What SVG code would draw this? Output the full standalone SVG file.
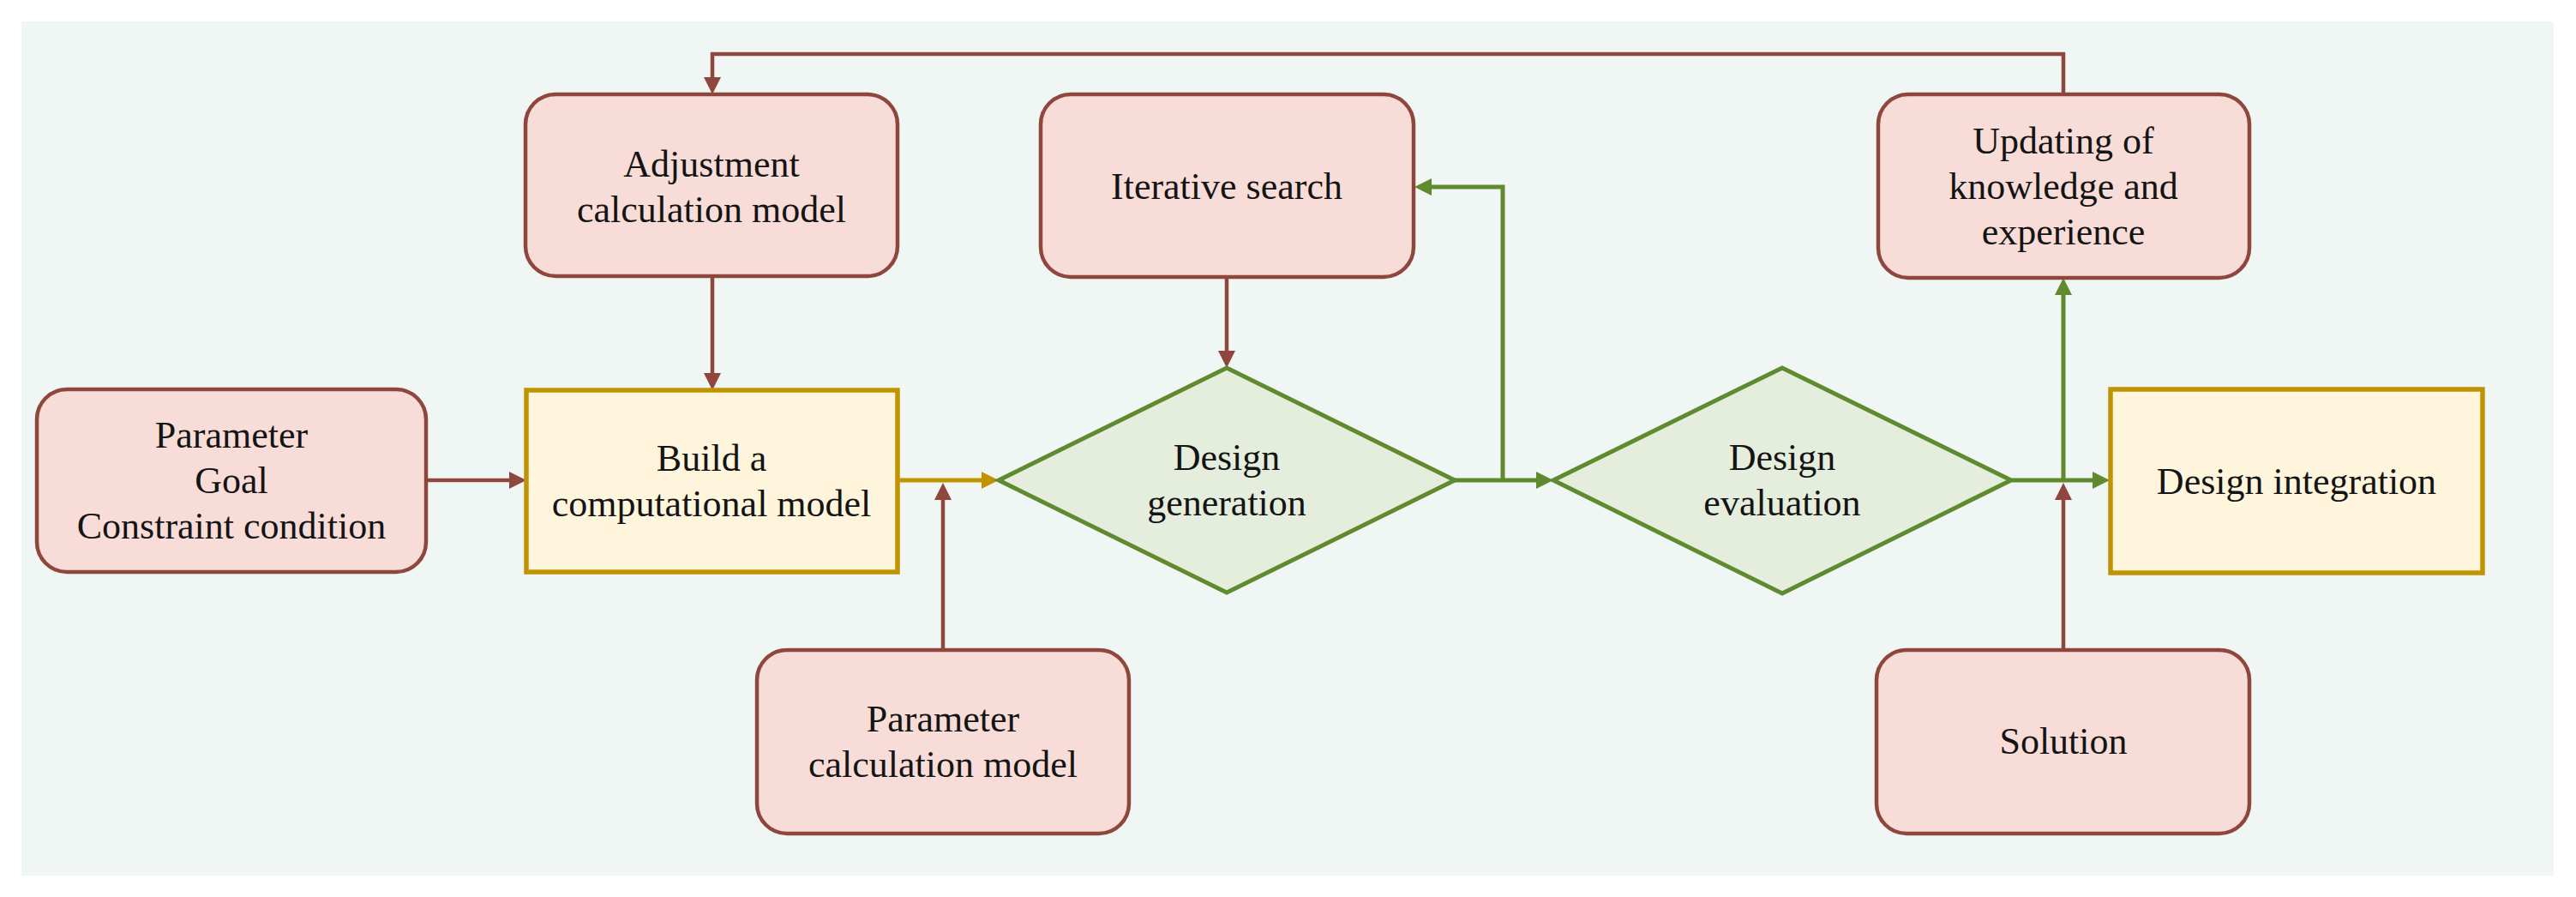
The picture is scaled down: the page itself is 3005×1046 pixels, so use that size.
<svg xmlns="http://www.w3.org/2000/svg" width="3005" height="1046" viewBox="0 0 3005 1046">
<style>
.pink{fill:#F8DCD8;stroke:#8F473D;stroke-width:4.5}
.yel{fill:#FEF5DC;stroke:#BF9400;stroke-width:5.5}
.grn{fill:#E5EDDD;stroke:#5F8A2F;stroke-width:5}
.t{font-family:"Liberation Serif","Times New Roman",serif;font-size:44px;fill:#141414;text-anchor:middle}
.cb{fill:none;stroke:#8F473D;stroke-width:4.5}
.cy{fill:none;stroke:#BF9400;stroke-width:5}
.cg{fill:none;stroke:#5F8A2F;stroke-width:5}
</style>
<defs>
<marker id="ab" viewBox="0 0 20 20" markerWidth="20" markerHeight="20" refX="0" refY="10" orient="auto" markerUnits="userSpaceOnUse"><path d="M0,0 L20,10 L0,20 Z" fill="#8F473D"/></marker>
<marker id="ay" viewBox="0 0 20 20" markerWidth="20" markerHeight="20" refX="0" refY="10" orient="auto" markerUnits="userSpaceOnUse"><path d="M0,0 L20,10 L0,20 Z" fill="#BF9400"/></marker>
<marker id="ag" viewBox="0 0 20 20" markerWidth="20" markerHeight="20" refX="0" refY="10" orient="auto" markerUnits="userSpaceOnUse"><path d="M0,0 L20,10 L0,20 Z" fill="#5F8A2F"/></marker>
</defs>
<rect x="0" y="0" width="3005" height="1046" fill="#FFFFFF"/>
<rect x="25" y="25" width="2954" height="996" fill="#F0F6F3"/>

<g id="connectors">
<path class="cb" d="M497,560 H594" marker-end="url(#ab)"/>
<path class="cb" d="M831,322 V435" marker-end="url(#ab)"/>
<path class="cb" d="M1100,758 V583" marker-end="url(#ab)"/>
<path class="cb" d="M1431,323 V409" marker-end="url(#ab)"/>
<path class="cy" d="M1047,560 H1145" marker-end="url(#ay)"/>
<path class="cg" d="M1697,560 H1792" marker-end="url(#ag)"/>
<path class="cg" d="M1753,560 V218 H1670" marker-end="url(#ag)"/>
<path class="cg" d="M2347,560 H2441" marker-end="url(#ag)"/>
<path class="cg" d="M2407,560 V344" marker-end="url(#ag)"/>
<path class="cb" d="M2407,758 V583" marker-end="url(#ab)"/>
<path class="cb" d="M2407,110 V63 H831 V90" marker-end="url(#ab)"/>
</g>

<g id="param-goal">
<rect class="pink" x="43" y="454" width="454" height="213" rx="35"/>
<text class="t" x="270" y="522">Parameter</text>
<text class="t" x="270" y="575">Goal</text>
<text class="t" x="270" y="628">Constraint condition</text>
</g>
<g id="adjustment">
<rect class="pink" x="613" y="110" width="434" height="212" rx="35"/>
<text class="t" x="830" y="206">Adjustment</text>
<text class="t" x="830" y="259">calculation model</text>
</g>
<g id="build">
<rect class="yel" x="614" y="455" width="433" height="212"/>
<text class="t" x="830" y="549">Build a</text>
<text class="t" x="830" y="602">computational model</text>
</g>
<g id="param-calc">
<rect class="pink" x="883" y="758" width="434" height="214" rx="35"/>
<text class="t" x="1100" y="853">Parameter</text>
<text class="t" x="1100" y="906">calculation model</text>
</g>
<g id="iterative">
<rect class="pink" x="1214" y="110" width="435" height="213" rx="35"/>
<text class="t" x="1431" y="232">Iterative search</text>
</g>
<g id="generation">
<polygon class="grn" points="1165,560 1431,429 1697,560 1431,691"/>
<text class="t" x="1431" y="548">Design</text>
<text class="t" x="1431" y="601">generation</text>
</g>
<g id="evaluation">
<polygon class="grn" points="1812,560 2079,429 2346,560 2079,692"/>
<text class="t" x="2079" y="548">Design</text>
<text class="t" x="2079" y="601">evaluation</text>
</g>
<g id="updating">
<rect class="pink" x="2191" y="110" width="433" height="214" rx="35"/>
<text class="t" x="2407" y="179">Updating of</text>
<text class="t" x="2407" y="232">knowledge and</text>
<text class="t" x="2407" y="285">experience</text>
</g>
<g id="integration">
<rect class="yel" x="2462" y="454" width="434" height="214"/>
<text class="t" x="2679" y="576">Design integration</text>
</g>
<g id="solution">
<rect class="pink" x="2189" y="758" width="435" height="214" rx="35"/>
<text class="t" x="2407" y="879">Solution</text>
</g>
</svg>
